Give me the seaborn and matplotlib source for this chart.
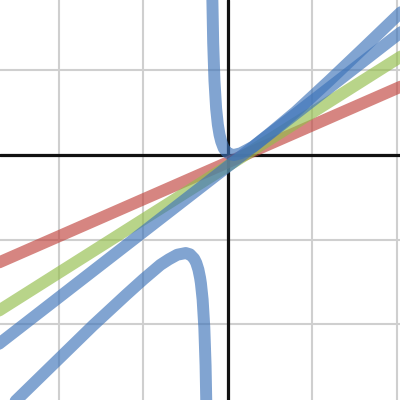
import matplotlib
matplotlib.use("Agg")
import matplotlib.pyplot as plt
import seaborn as sns
import pandas as pd

# straight lines (x ends and y ends, grid unit = 1)
red_x = [-2.8, 2.1]
red_y = [-1.311, 0.833]
green_x = [-2.8, 2.1]
green_y = [-1.898, 1.199]
blue_line_x = [-2.8, 2.1]
blue_line_y = [-2.304, 1.494]

# blue curve, two branches either side of the vertical asymptote
upper_x = [-0.193, -0.185, -0.175, -0.16, -0.14, -0.12, -0.10, -0.08, -0.05, -0.02,
           0.02, 0.07, 0.15, 0.30, 0.50, 0.80, 1.20, 1.60, 2.10]
upper_y = [2.56, 1.86, 1.33, 0.88, 0.55, 0.36, 0.24, 0.16, 0.08, 0.04,
           0.01, 0.00, 0.02, 0.10, 0.26, 0.51, 0.88, 1.26, 1.74]
lower_x = [-2.80, -2.40, -2.00, -1.60, -1.20, -1.00, -0.80, -0.70, -0.60, -0.50,
           -0.45, -0.40, -0.375, -0.35, -0.33, -0.32, -0.30, -0.28, -0.265, -0.255]
lower_y = [-3.19, -2.80, -2.41, -2.02, -1.65, -1.47, -1.30, -1.235, -1.18, -1.16,
           -1.175, -1.227, -1.277, -1.356, -1.454, -1.52, -1.71, -2.04, -2.49, -3.015]

grid_ticks_x = [-2, -1, 0, 1, 2]
grid_ticks_y = [-2, -1, 0, 1]

RED = "#c0443e"
GREEN = "#93bd4a"
BLUE = "#3d73b9"
ALPHA = 0.65
LW = 8.6

sns.set_style("white")
fig = plt.figure(figsize=(4, 4), dpi=100)
ax = fig.add_axes([0, 0, 1, 1])

ax.set_xlim(-2.698, 2.036)
ax.set_ylim(-2.899, 1.834)
ax.set_xticks(grid_ticks_x)
ax.set_yticks(grid_ticks_y)
ax.grid(True, color="#cfcfcf", linewidth=1.5, zorder=0)
ax.tick_params(length=0, labelbottom=False, labelleft=False)
for s in ax.spines.values():
    s.set_visible(False)

# coordinate axes
ax.axhline(0, color="#111111", linewidth=2.3, zorder=1)
ax.axvline(0, color="#111111", linewidth=2.3, zorder=1)

def draw(xs, ys, color):
    df = pd.DataFrame({"x": xs, "y": ys})
    sns.lineplot(data=df, x="x", y="y", sort=False, estimator=None, ax=ax,
                 color=color, alpha=ALPHA, linewidth=LW,
                 solid_capstyle="round", solid_joinstyle="round", zorder=2)

draw(red_x, red_y, RED)
draw(green_x, green_y, GREEN)
draw(blue_line_x, blue_line_y, BLUE)
draw(upper_x, upper_y, BLUE)
draw(lower_x, lower_y, BLUE)

ax.set_xlabel("")
ax.set_ylabel("")
fig.savefig("out.png", dpi=100)
